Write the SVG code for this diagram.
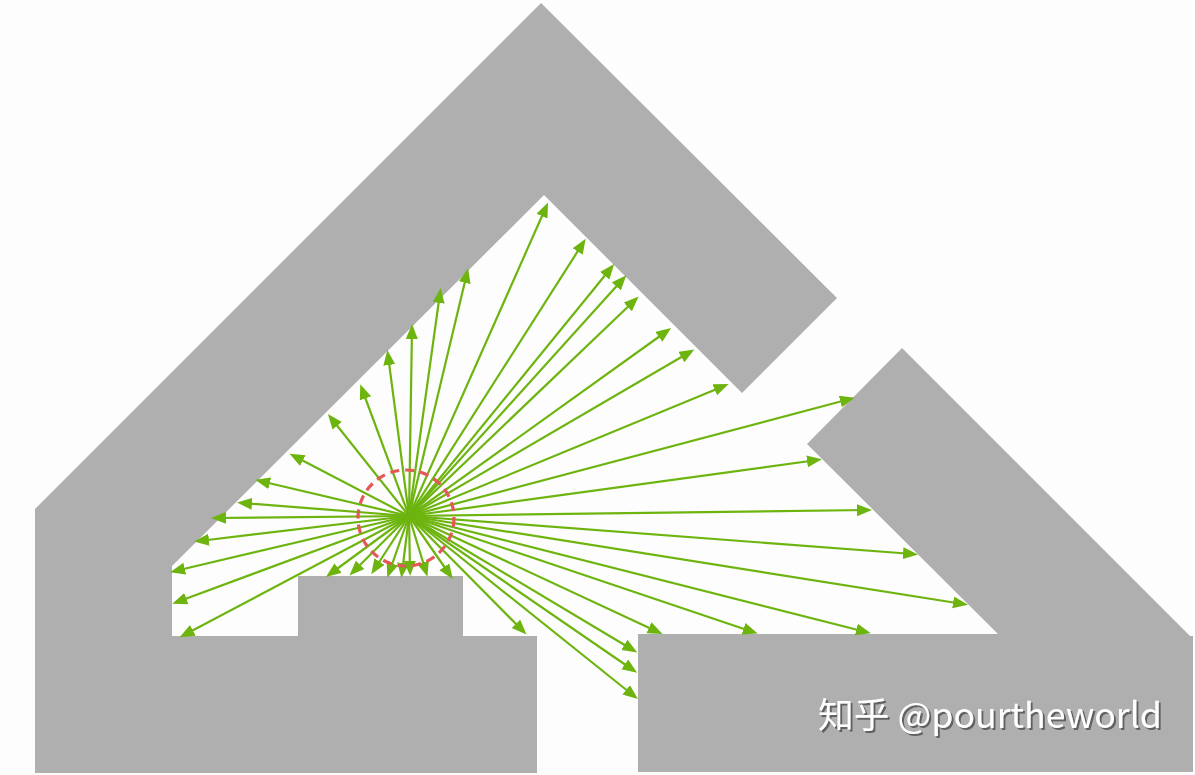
<svg xmlns="http://www.w3.org/2000/svg" width="1195" height="775" viewBox="0 0 1195 775">
  <defs>
    <marker id="ah" markerUnits="userSpaceOnUse" markerWidth="16" markerHeight="13" refX="10" refY="6" orient="auto">
      <path d="M0,0 L15,6 L0,12 z" fill="#6db40f"/>
    </marker>
    <filter id="sh" x="-10%" y="-30%" width="120%" height="160%">
      <feDropShadow dx="2" dy="2" stdDeviation="0.6" flood-color="#5a5a5a" flood-opacity="0.9"/>
    </filter>
    <style>
      .wall { fill: #afafaf; }
      .ray { stroke: #6db40f; stroke-width: 2.2; fill: none; marker-end: url(#ah); }
      .probe { fill: none; stroke: #e4585a; stroke-width: 3.2; stroke-dasharray: 9 6; }
      .wm { font-family: "Noto Sans CJK SC", "Noto Sans", sans-serif; font-size: 35px; fill: #ffffff; }
    </style>
  </defs>
  <rect x="0" y="0" width="1195" height="775" fill="#fdfdfd"/>
  <g id="wall-left">
    <polygon class="wall" points="541,3 837,298 742,393 544,195 172,566 172,636 298,636 298,576 463,576 463,636 537,636 537,773 35,773 35,509"/>
  </g>
  <g id="wall-right">
    <polygon class="wall" points="902,348 1190,636 1193,636 1193,772 638,772 638,634 998,634 807,444"/>
  </g>
  <g id="connectors">
    <line class="ray" x1="409" y1="516" x2="546" y2="207"/>
    <line class="ray" x1="409" y1="516" x2="583" y2="243"/>
    <line class="ray" x1="409" y1="516" x2="611" y2="268"/>
    <line class="ray" x1="409" y1="516" x2="623" y2="279"/>
    <line class="ray" x1="409" y1="516" x2="635" y2="300"/>
    <line class="ray" x1="409" y1="516" x2="667" y2="331"/>
    <line class="ray" x1="409" y1="516" x2="690" y2="352"/>
    <line class="ray" x1="409" y1="516" x2="724" y2="386"/>
    <line class="ray" x1="409" y1="516" x2="850" y2="399"/>
    <line class="ray" x1="409" y1="516" x2="817" y2="460"/>
    <line class="ray" x1="409" y1="516" x2="867" y2="510"/>
    <line class="ray" x1="409" y1="516" x2="913" y2="554"/>
    <line class="ray" x1="409" y1="516" x2="963" y2="604"/>
    <line class="ray" x1="409" y1="516" x2="866" y2="632"/>
    <line class="ray" x1="409" y1="516" x2="753" y2="632"/>
    <line class="ray" x1="409" y1="516" x2="658" y2="632"/>
    <line class="ray" x1="409" y1="516" x2="633" y2="650"/>
    <line class="ray" x1="409" y1="516" x2="633" y2="670"/>
    <line class="ray" x1="409" y1="516" x2="634" y2="696"/>
    <line class="ray" x1="409" y1="516" x2="523" y2="631"/>
    <line class="ray" x1="409" y1="516" x2="450" y2="575"/>
    <line class="ray" x1="409" y1="516" x2="426" y2="572"/>
    <line class="ray" x1="409" y1="516" x2="410" y2="571"/>
    <line class="ray" x1="409" y1="516" x2="402" y2="573"/>
    <line class="ray" x1="409" y1="516" x2="389" y2="573"/>
    <line class="ray" x1="409" y1="516" x2="374" y2="570"/>
    <line class="ray" x1="409" y1="516" x2="353" y2="572"/>
    <line class="ray" x1="409" y1="516" x2="330" y2="574"/>
    <line class="ray" x1="409" y1="516" x2="184" y2="635"/>
    <line class="ray" x1="409" y1="516" x2="177" y2="602"/>
    <line class="ray" x1="409" y1="516" x2="175" y2="571"/>
    <line class="ray" x1="409" y1="516" x2="199" y2="541"/>
    <line class="ray" x1="409" y1="516" x2="216" y2="518"/>
    <line class="ray" x1="409" y1="516" x2="242" y2="503"/>
    <line class="ray" x1="409" y1="516" x2="260" y2="481"/>
    <line class="ray" x1="409" y1="516" x2="294" y2="456"/>
    <line class="ray" x1="409" y1="516" x2="331" y2="418"/>
    <line class="ray" x1="409" y1="516" x2="362" y2="389"/>
    <line class="ray" x1="409" y1="516" x2="388" y2="355"/>
    <line class="ray" x1="409" y1="516" x2="412" y2="329"/>
    <line class="ray" x1="409" y1="516" x2="440" y2="293"/>
    <line class="ray" x1="409" y1="516" x2="467" y2="273"/>
  </g>
  <g id="probe">
    <circle class="probe" cx="406" cy="518" r="48"/>
  </g>
  <g id="watermark">
    <text class="wm" x="818" y="728" textLength="344" lengthAdjust="spacingAndGlyphs" filter="url(#sh)">知乎 @pourtheworld</text>
  </g>
</svg>
